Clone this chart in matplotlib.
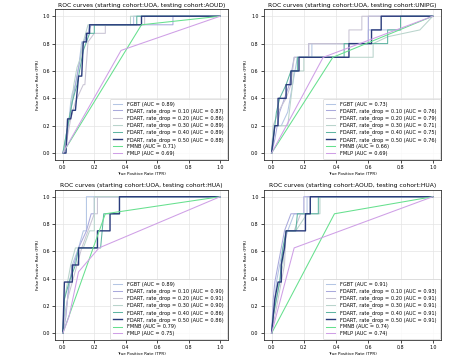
import numpy as np
import matplotlib.pyplot as plt

fnt = 3.4

labels = ['FGBT', 'FDART, rate_drop = 0.10', 'FDART, rate_drop = 0.20',
          'FDART, rate_drop = 0.30', 'FDART, rate_drop = 0.40',
          'FDART, rate_drop = 0.50', 'FMNB', 'FMLP']
colors = ['#b4c6e4', '#a9a9dc', '#c9c4d4', '#b9d4cc', '#5fb5a2',
          '#2a3b7c', '#66e08e', '#cf9fe6']

titles = ['ROC curves (starting cohort:UOA, testing cohort:AOUD)',
          'ROC curves (starting cohort:UOA, testing cohort:UNIPG)',
          'ROC curves (starting cohort:UOA, testing cohort:HUA)',
          'ROC curves (starting cohort:AOUD, testing cohort:HUA)']

# ---- UOA -> AOUD
aoud_fpr = [
    [0, 0.01, 0.02, 0.04, 0.05, 0.06, 0.08, 0.10, 0.12, 0.14, 0.16, 0.17, 0.45, 0.45, 1],
    [0, 0.02, 0.04, 0.06, 0.08, 0.10, 0.12, 0.13, 0.16, 0.18, 0.70, 0.70, 1],
    [0, 0.02, 0.05, 0.08, 0.13, 0.14, 0.16, 0.20, 0.27, 0.27, 0.52, 0.52, 1],
    [0, 0.01, 0.03, 0.05, 0.07, 0.09, 0.11, 0.13, 0.16, 0.43, 0.43, 1],
    [0, 0.02, 0.04, 0.06, 0.09, 0.11, 0.13, 0.17, 0.20, 0.20, 0.47, 0.47, 1],
    [0, 0.02, 0.03, 0.05, 0.06, 0.08, 0.10, 0.12, 0.13, 0.15, 0.15, 0.17, 0.17, 0.50, 0.50, 1],
    [0, 0.50, 1],
    [0, 0.37, 1],
]
aoud_tpr = [
    [0, 0, 0.125, 0.25, 0.375, 0.4375, 0.5, 0.625, 0.8125, 0.8125, 0.875, 0.9375, 0.9375, 1, 1],
    [0, 0.0625, 0.25, 0.375, 0.5, 0.625, 0.75, 0.8125, 0.875, 0.9375, 0.9375, 1, 1],
    [0, 0.0625, 0.25, 0.375, 0.5, 0.5, 0.8125, 0.875, 0.875, 0.9375, 0.9375, 1, 1],
    [0, 0.0625, 0.1875, 0.3125, 0.5, 0.625, 0.6875, 0.8125, 0.9375, 0.9375, 1, 1],
    [0, 0.125, 0.25, 0.375, 0.5, 0.625, 0.75, 0.875, 0.875, 0.9375, 0.9375, 1, 1],
    [0, 0, 0.25, 0.25, 0.3125, 0.3125, 0.5625, 0.5625, 0.8125, 0.8125, 0.875, 0.875, 0.9375, 0.9375, 1, 1],
    [0, 0.9375, 1],
    [0, 0.75, 1],
]
aoud_auc = [0.89, 0.87, 0.86, 0.89, 0.89, 0.88, 0.71, 0.69]

# ---- UOA -> UNIPG
unipg_fpr = [
    [0, 0.02, 0.06, 0.10, 0.13, 0.16, 0.25, 0.25, 0.60, 0.60, 0.80, 0.80, 1],
    [0, 0.02, 0.05, 0.08, 0.11, 0.14, 0.23, 0.23, 0.60, 0.60, 1],
    [0, 0.01, 0.04, 0.09, 0.12, 0.14, 0.23, 0.23, 0.48, 0.48, 0.56, 0.56, 1],
    [0, 0.01, 0.10, 0.12, 0.14, 0.20, 0.20, 0.63, 0.63, 0.72, 0.92, 1],
    [0, 0.01, 0.03, 0.05, 0.09, 0.12, 0.16, 0.16, 0.45, 0.45, 0.72, 0.72, 0.80, 0.80, 1],
    [0, 0.01, 0.02, 0.04, 0.04, 0.09, 0.09, 0.12, 0.12, 0.17, 0.17, 0.48, 0.48, 0.62, 0.62, 0.68, 0.68, 1],
    [0, 0.38, 1],
    [0, 0.32, 1],
]
unipg_tpr = [
    [0, 0.2, 0.2, 0.3, 0.5, 0.7, 0.7, 0.8, 0.8, 0.9, 0.9, 1, 1],
    [0, 0.1, 0.3, 0.4, 0.5, 0.7, 0.7, 0.8, 0.8, 1, 1],
    [0, 0.2, 0.3, 0.4, 0.5, 0.7, 0.7, 0.8, 0.8, 0.9, 0.9, 1, 1],
    [0, 0.2, 0.2, 0.4, 0.6, 0.6, 0.7, 0.7, 0.8, 0.85, 0.9, 1],
    [0, 0.1, 0.3, 0.4, 0.5, 0.6, 0.6, 0.7, 0.7, 0.8, 0.8, 0.9, 0.9, 1, 1],
    [0, 0.1, 0.2, 0.2, 0.4, 0.4, 0.5, 0.5, 0.6, 0.6, 0.7, 0.7, 0.8, 0.8, 0.9, 0.9, 1, 1],
    [0, 0.7, 1],
    [0, 0.7, 1],
]
unipg_auc = [0.73, 0.76, 0.79, 0.71, 0.75, 0.76, 0.66, 0.69]

# ---- UOA -> HUA
hua_fpr = [
    [0, 0.01, 0.03, 0.06, 0.10, 0.13, 0.15, 0.15, 1],
    [0, 0.02, 0.04, 0.07, 0.10, 0.15, 0.18, 0.20, 0.20, 1],
    [0, 0.03, 0.06, 0.09, 0.12, 0.16, 0.20, 0.22, 0.22, 1],
    [0, 0.01, 0.03, 0.05, 0.08, 0.13, 0.17, 0.20, 0.20, 1],
    [0, 0.01, 0.04, 0.08, 0.10, 0.24, 0.26, 0.32, 0.36, 0.36, 1],
    [0, 0.01, 0.06, 0.06, 0.10, 0.10, 0.22, 0.22, 0.30, 0.30, 0.36, 0.36, 1],
    [0, 0.27, 1],
    [0, 0.04, 0.10, 0.23, 1],
]
hua_tpr = [
    [0, 0.125, 0.25, 0.5, 0.625, 0.75, 0.75, 1, 1],
    [0, 0.125, 0.375, 0.5, 0.625, 0.75, 0.875, 0.875, 1, 1],
    [0, 0.25, 0.375, 0.5, 0.625, 0.75, 0.875, 0.875, 1, 1],
    [0, 0.25, 0.375, 0.5, 0.625, 0.625, 0.75, 0.75, 1, 1],
    [0, 0.25, 0.375, 0.5, 0.625, 0.625, 0.875, 0.875, 0.875, 1, 1],
    [0, 0.375, 0.375, 0.5, 0.5, 0.625, 0.625, 0.75, 0.75, 0.875, 0.875, 1, 1],
    [0, 0.875, 1],
    [0, 0.125, 0.45, 0.625, 1],
]
hua_auc = [0.89, 0.90, 0.91, 0.90, 0.86, 0.86, 0.79, 0.75]

# ---- AOUD -> HUA
hua2_fpr = [
    [0, 0.01, 0.03, 0.05, 0.07, 0.10, 0.14, 0.20, 0.22, 0.22, 1],
    [0, 0.01, 0.02, 0.04, 0.06, 0.08, 0.12, 0.16, 0.20, 0.20, 1],
    [0, 0.02, 0.04, 0.06, 0.08, 0.09, 0.14, 0.18, 0.24, 0.24, 1],
    [0, 0.01, 0.03, 0.05, 0.07, 0.09, 0.15, 0.22, 0.30, 0.30, 1],
    [0, 0.01, 0.03, 0.05, 0.07, 0.09, 0.15, 0.16, 0.23, 0.29, 0.29, 1],
    [0, 0.01, 0.02, 0.04, 0.06, 0.06, 0.08, 0.09, 0.21, 0.21, 0.24, 0.24, 1],
    [0, 0.39, 1],
    [0, 0.14, 1],
]
hua2_tpr = [
    [0, 0.125, 0.375, 0.5, 0.625, 0.75, 0.875, 0.875, 0.875, 1, 1],
    [0, 0.25, 0.375, 0.5, 0.625, 0.75, 0.875, 0.875, 0.875, 1, 1],
    [0, 0.125, 0.25, 0.375, 0.5, 0.75, 0.75, 0.875, 0.875, 1, 1],
    [0, 0.125, 0.25, 0.375, 0.5, 0.75, 0.75, 0.875, 0.875, 1, 1],
    [0, 0.125, 0.25, 0.375, 0.625, 0.75, 0.75, 0.875, 0.875, 0.875, 1, 1],
    [0, 0.125, 0.25, 0.375, 0.375, 0.5, 0.625, 0.75, 0.75, 0.875, 0.875, 1, 1],
    [0, 0.875, 1],
    [0, 0.625, 1],
]
hua2_auc = [0.91, 0.93, 0.91, 0.91, 0.91, 0.91, 0.74, 0.74]

panels = [(aoud_fpr, aoud_tpr, aoud_auc), (unipg_fpr, unipg_tpr, unipg_auc),
          (hua_fpr, hua_tpr, hua_auc), (hua2_fpr, hua2_tpr, hua2_auc)]

# axes rectangles in figure fractions (left, bottom, width, height)
rects = [[0.116, 0.557, 0.365, 0.417], [0.556, 0.557, 0.374, 0.417],
         [0.116, 0.058, 0.365, 0.416], [0.556, 0.058, 0.374, 0.416]]

fig = plt.figure(figsize=(4.74, 3.61), dpi=100)

for k in range(4):
    fpr, tpr, auc = panels[k]
    ax = fig.add_axes(rects[k])
    for i in range(8):
        lw = 1.0 if i == 5 else 0.75
        ax.plot(fpr[i], tpr[i], color=colors[i], lw=lw,
                label='%s (AUC = %.2f)' % (labels[i], auc[i]))
    ax.set_xlim(-0.05, 1.05)
    ax.set_ylim(-0.05, 1.05)
    ax.set_xticks(np.arange(0, 1.01, 0.2))
    ax.set_yticks(np.arange(0, 1.01, 0.2))
    ax.grid(color='#e4e4e4', lw=0.5)
    ax.tick_params(labelsize=fnt, length=2, width=0.5, pad=1.5)
    for s in ax.spines.values():
        s.set_linewidth(0.6)
        s.set_color('#333333')
    ax.set_xlabel('True Positive Rate (TPR)', fontsize=3.0, labelpad=1.5)
    ax.set_ylabel('False Positive Rate (FPR)', fontsize=3.0, labelpad=2)
    ax.set_title(titles[k], fontsize=4.3, pad=2)
    leg = ax.legend(loc='lower right', fontsize=3.6, handlelength=1.8,
                    handletextpad=1.0, labelspacing=0.3, borderpad=0.6,
                    borderaxespad=0.25, framealpha=0.8)
    leg.get_frame().set_linewidth(0.5)

plt.savefig('out.png', dpi=100)
